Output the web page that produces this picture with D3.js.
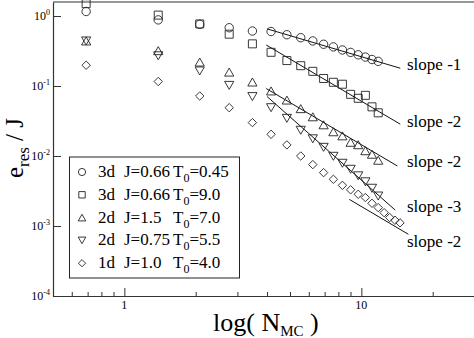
<!DOCTYPE html>
<html><head><meta charset="utf-8">
<script src="https://cdn.jsdelivr.net/npm/d3@7"></script>
<style>
html,body{margin:0;padding:0;background:#fff;}
svg{display:block;}
text{font-family:"Liberation Serif","Times New Roman",serif;fill:#000;}
</style></head><body>
<svg id="chart" width="474" height="338"></svg>
<script>
// Monte Carlo steps (x values)
const nMC = [0.69, 1.39, 2.08, 2.77, 3.47, 4.16, 4.85, 5.55, 6.24, 6.93, 7.62,
             8.32, 9.01, 9.70, 10.40, 11.09, 11.78, 12.48, 13.17, 13.86, 14.56];

// residual energy per J for each system
const res3dLowT  = [1.16, 0.88, 0.76, 0.68, 0.61, 0.60, 0.54, 0.49, 0.44, 0.395, 0.362,
                    0.327, 0.302, 0.279, 0.259, 0.239, 0.225];
const res3dHighT = [1.50, 1.03, 0.77, 0.55, 0.40, 0.303, 0.231, 0.195, 0.162, 0.128, 0.113,
                    0.106, 0.076, 0.0667, 0.0736, 0.0504, 0.0414];
const res2dJ15   = [0.44, 0.32, 0.22, 0.158, 0.114, 0.085, 0.063, 0.0475, 0.0363, 0.0279, 0.0222,
                    0.0194, 0.0157, 0.0145, 0.0119, 0.0106, 0.0087];
const res2dJ075  = [0.44, 0.27, 0.164, 0.102, 0.0706, 0.049, 0.0345, 0.0233, 0.0176, 0.0133, 0.0099,
                    0.00787, 0.00646, 0.00521, 0.00428, 0.00346, 0.00268];
const res1d      = [0.198, 0.116, 0.072, 0.049, 0.030, 0.0204, 0.0144, 0.0100, 0.00754, 0.00579, 0.00465,
                    0.00381, 0.00329, 0.00284, 0.00255, 0.00211, 0.00183, 0.00155, 0.00132, 0.00121, 0.00111];

const legendDims  = ["3d", "3d", "2d", "2d", "1d"];
const legendJ     = ["J=0.66", "J=0.66", "J=1.5", "J=0.75", "J=1.0"];
const legendT0    = ["0.45", "9.0", "7.0", "5.5", "4.0"];
const markerTypes = ["circle", "square", "triUp", "triDown", "diamond"];

// power-law guide lines e = A * N^slope
const fitSlope = [-1, -2, -2, -3, -2];
const fitAmp   = [2.62, 6.07, 1.45, 4.53, 0.19];
const fitFrom  = [4.0, 3.97, 3.97, 4.0, 8.9];
const fitTo    = [14.6, 14.6, 14.2, 13.9, 15.8];
const slopeLabels = ["slope -1", "slope -2", "slope -2", "slope -3", "slope -2"];

const xMajor = [1, 10];
const xMinor = [0.6, 0.7, 0.8, 0.9, 2, 3, 4, 5, 6, 7, 8, 9, 20];
const yMajor = [1e-4, 1e-3, 1e-2, 1e-1, 1];
const yExp   = ["-4", "-3", "-2", "-1", "0"];

const series = [res3dLowT, res3dHighT, res2dJ15, res2dJ075, res1d];

const svg = d3.select("#chart");
const x = d3.scaleLog().domain([0.5, 30]).range([53, 53 + 237 * Math.log10(60)]);
const y = d3.scaleLog().domain([1e-4, Math.pow(10, 0.2)]).range([296, 2]);

function markerPath(type, s) {
  switch (type) {
    case "circle": return `M${-s},0A${s},${s} 0 1,0 ${s},0A${s},${s} 0 1,0 ${-s},0Z`;
    case "square": return `M${-s},${-s}H${s}V${s}H${-s}Z`;
    case "triUp": { const h = s * 0.87; return `M0,${-h}L${s},${h}L${-s},${h}Z`; }
    case "triDown": { const h = s * 0.87; return `M0,${h}L${s},${-h}L${-s},${-h}Z`; }
    case "diamond": return `M0,${-s}L${s},0L0,${s}L${-s},0Z`;
  }
}
const plotSize = {circle: 4.2, square: 4.0, triUp: 4.6, triDown: 4.6, diamond: 4.2};
const legSize  = {circle: 3.6, square: 3.2, triUp: 3.8, triDown: 3.8, diamond: 3.6};

// top border of the plot area (the right side runs past the canvas)
svg.append("line")
  .attr("x1", x.range()[0]).attr("x2", x.range()[1] + 2)
  .attr("y1", y.range()[1]).attr("y2", y.range()[1])
  .attr("stroke", "#333").attr("stroke-width", 1.2);

// axes (ticks pointing inward)
const gx = svg.append("g").attr("transform", `translate(0,${y.range()[0]})`);
gx.call(d3.axisBottom(x).tickValues(xMajor).tickSizeInner(-8).tickSizeOuter(0).tickFormat(""));
gx.append("g").call(d3.axisBottom(x).tickValues(xMinor).tickSizeInner(-4).tickSizeOuter(0).tickFormat(""));
gx.selectAll(".domain").attr("stroke", "#333").attr("stroke-width", 1.2);
gx.selectAll(".tick line").attr("stroke", "#333");

const gy = svg.append("g").attr("transform", `translate(${x.range()[0]},0)`);
gy.call(d3.axisLeft(y).tickValues(yMajor).tickSizeInner(-8).tickSizeOuter(0).tickFormat(""));
gy.selectAll(".domain").attr("stroke", "#333").attr("stroke-width", 1.2);
gy.selectAll(".tick line").attr("stroke", "#333");

// tick labels
svg.selectAll(".xlab").data(xMajor).join("text")
  .attr("x", d => x(d)).attr("y", 309).attr("text-anchor", "middle")
  .attr("font-size", 12).text(d => d);

yMajor.forEach((v, i) => {
  const t = svg.append("text").attr("x", 50).attr("y", y(v) + 4)
    .attr("text-anchor", "end").attr("font-size", 12);
  t.append("tspan").text("10");
  t.append("tspan").attr("dy", -5).attr("font-size", 8).text(yExp[i]);
});

// guide lines
fitSlope.forEach((s, i) => {
  const f = n => fitAmp[i] * Math.pow(n, s);
  svg.append("line")
    .attr("x1", x(fitFrom[i])).attr("y1", y(f(fitFrom[i])))
    .attr("x2", x(fitTo[i])).attr("y2", y(f(fitTo[i])))
    .attr("stroke", "#111").attr("stroke-width", 1);
});

// data markers
series.forEach((vals, i) => {
  svg.append("g").selectAll("path").data(vals).join("path")
    .attr("transform", (d, j) => `translate(${x(nMC[j])},${y(d)})`)
    .attr("d", markerPath(markerTypes[i], plotSize[markerTypes[i]]))
    .attr("fill", "none").attr("stroke", "#222").attr("stroke-width", 0.9);
});

// slope labels
const slopeLabelY = [70, 126.5, 167, 211.5, 246.5];
slopeLabels.forEach((s, i) => {
  svg.append("text").attr("x", 407).attr("y", slopeLabelY[i])
    .attr("font-size", 17).text(s);
});

// legend
const lg = svg.append("g");
lg.append("rect").attr("x", 69.5).attr("y", 157).attr("width", 170).attr("height", 121)
  .attr("fill", "#fff").attr("stroke", "#222").attr("stroke-width", 1);
legendDims.forEach((dim, i) => {
  const by = 177 + i * 22.8;
  lg.append("path").attr("transform", `translate(82,${by - 5})`)
    .attr("d", markerPath(markerTypes[i], legSize[markerTypes[i]]))
    .attr("fill", "none").attr("stroke", "#222").attr("stroke-width", 0.9);
  lg.append("text").attr("x", 98).attr("y", by).attr("font-size", 17).text(dim);
  lg.append("text").attr("x", 124).attr("y", by).attr("font-size", 17).text(legendJ[i]);
  const t = lg.append("text").attr("x", 173).attr("y", by).attr("font-size", 17);
  t.append("tspan").text("T");
  t.append("tspan").attr("dy", 5).attr("font-size", 12).text("0");
  t.append("tspan").attr("dy", -5).text("=" + legendT0[i]);
});

// axis titles
const xt = svg.append("text").attr("x", 213).attr("y", 331).attr("font-size", 26);
xt.append("tspan").text("log( N");
xt.append("tspan").attr("dy", 5).attr("font-size", 15).text("MC");
xt.append("tspan").attr("dy", -5).text(" )");

const yt = svg.append("text").attr("transform", "translate(23,148) rotate(-90)")
  .attr("text-anchor", "middle").attr("font-size", 25);
yt.append("tspan").text("e");
yt.append("tspan").attr("dy", 6).attr("font-size", 17).text("res");
yt.append("tspan").attr("dy", -6).text(" / J");
</script>
</body></html>
